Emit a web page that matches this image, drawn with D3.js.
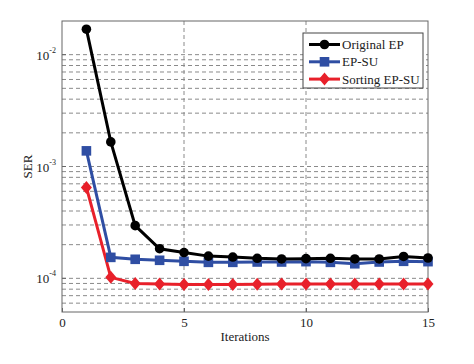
<!DOCTYPE html>
<html><head><meta charset="utf-8">
<script src="https://cdn.jsdelivr.net/npm/d3@7"></script>
<style>body{margin:0;background:#fff}text{font-family:"Liberation Serif","Times New Roman",serif;fill:#222}</style>
</head><body><svg id="c" width="474" height="364"></svg>
<script>
const iterations = d3.range(1, 16);
const originalEP = [1.69e-2, 1.66e-3, 2.96e-4, 1.84e-4, 1.70e-4, 1.58e-4, 1.55e-4, 1.51e-4, 1.49e-4, 1.50e-4, 1.51e-4, 1.49e-4, 1.49e-4, 1.57e-4, 1.52e-4];
const epSU = [1.38e-3, 1.54e-4, 1.48e-4, 1.45e-4, 1.42e-4, 1.39e-4, 1.39e-4, 1.40e-4, 1.40e-4, 1.41e-4, 1.39e-4, 1.35e-4, 1.40e-4, 1.42e-4, 1.41e-4];
const sortingEPSU = [6.5e-4, 1.02e-4, 9.0e-5, 8.9e-5, 8.8e-5, 8.8e-5, 8.8e-5, 8.85e-5, 8.9e-5, 8.9e-5, 8.9e-5, 8.9e-5, 8.9e-5, 8.9e-5, 8.9e-5];
const xTicks = [0, 5, 10, 15];
const yMajor = [-2, -3, -4];
const seriesNames = ["Original EP", "EP-SU", "Sorting EP-SU"];

const W = 474, H = 364;
const m = {l: 62, r: 46, t: 21, b: 52};
const svg = d3.select("#c");
const x = d3.scaleLinear().domain([0, 15]).range([m.l, W - m.r]);
const y = d3.scaleLog().domain([5e-5, 2e-2]).range([H - m.b, m.t]);

// grid
const minor = [];
for (let e = -5; e <= -2; e++) for (let k = 1; k <= 9; k++) { const v = k * Math.pow(10, e); if (v > 5e-5 && v < 2e-2) minor.push(v); }
svg.append("g").selectAll("line").data(minor).join("line")
  .attr("x1", m.l).attr("x2", W - m.r).attr("y1", d => y(d)).attr("y2", d => y(d))
  .attr("stroke", "#8a8a8a").attr("stroke-width", 1).attr("stroke-dasharray", "4,3");
svg.append("g").selectAll("line").data([5, 10]).join("line")
  .attr("x1", d => x(d)).attr("x2", d => x(d)).attr("y1", m.t).attr("y2", H - m.b)
  .attr("stroke", "#8a8a8a").attr("stroke-width", 1).attr("stroke-dasharray", "4,3");

// box
svg.append("rect").attr("x", m.l).attr("y", m.t).attr("width", W - m.r - m.l).attr("height", H - m.b - m.t)
  .attr("fill", "none").attr("stroke", "#666").attr("stroke-width", 1);

// x axis
const xa = svg.append("g").attr("transform", `translate(0,${H - m.b})`)
  .call(d3.axisBottom(x).tickValues(xTicks).tickSize(-4).tickPadding(6).tickFormat(d3.format("d")));
xa.select(".domain").remove();
xa.selectAll("line").attr("stroke", "#666");
xa.selectAll("text").attr("font-size", 13).attr("fill", "#222").style("font-family", '"Liberation Serif",serif');

// y axis labels
const yl = svg.append("g");
yMajor.forEach(e => {
  const t = yl.append("text").attr("x", m.l - 6).attr("y", y(Math.pow(10, e)) + 5).attr("text-anchor", "end").attr("font-size", 13);
  t.append("tspan").text("10");
  t.append("tspan").attr("dy", -7).attr("font-size", 8).text(String(e));
  yl.append("line").attr("x1", m.l).attr("x2", m.l + 4).attr("y1", y(Math.pow(10, e))).attr("y2", y(Math.pow(10, e))).attr("stroke", "#666");
});

svg.append("text").attr("transform", `translate(32,${(m.t + H - m.b) / 2}) rotate(-90)`).attr("text-anchor", "middle").attr("font-size", 13).text("SER");
svg.append("text").attr("x", (m.l + W - m.r) / 2).attr("y", 341).attr("text-anchor", "middle").attr("font-size", 13).text("Iterations");

const series = [
  {name: seriesNames[0], vals: originalEP, color: "#000000", shape: "circle"},
  {name: seriesNames[1], vals: epSU, color: "#2f4ea3", shape: "square"},
  {name: seriesNames[2], vals: sortingEPSU, color: "#e8202a", shape: "diamond"}
];
const line = d3.line().x((d, i) => x(iterations[i])).y(d => y(d));
function marker(g, shape, color, cx, cy) {
  if (shape === "circle") g.append("circle").attr("cx", cx).attr("cy", cy).attr("r", 4.8).attr("fill", color);
  else if (shape === "square") g.append("rect").attr("x", cx - 4.8).attr("y", cy - 4.8).attr("width", 9.6).attr("height", 9.6).attr("fill", color);
  else g.append("path").attr("d", `M${cx},${cy - 6.5}L${cx + 5.5},${cy}L${cx},${cy + 6.5}L${cx - 5.5},${cy}Z`).attr("fill", color);
}
series.slice().reverse().forEach(s => {
  svg.append("path").datum(s.vals).attr("d", line).attr("fill", "none").attr("stroke", s.color).attr("stroke-width", 3);
  const g = svg.append("g");
  s.vals.forEach((v, i) => marker(g, s.shape, s.color, x(iterations[i]), y(v)));
});

// legend
const lg = svg.append("g");
lg.append("rect").attr("x", 303).attr("y", 33).attr("width", 120).attr("height", 55).attr("fill", "#fff").attr("stroke", "#444").attr("stroke-width", 1);
series.forEach((s, i) => {
  const cy = 44.5 + i * 17.3;
  lg.append("line").attr("x1", 309).attr("x2", 340).attr("y1", cy).attr("y2", cy).attr("stroke", s.color).attr("stroke-width", 3);
  marker(lg, s.shape, s.color, 324.5, cy);
  lg.append("text").attr("x", 342).attr("y", cy + 4.5).attr("font-size", 13).text(s.name);
});
</script></body></html>
